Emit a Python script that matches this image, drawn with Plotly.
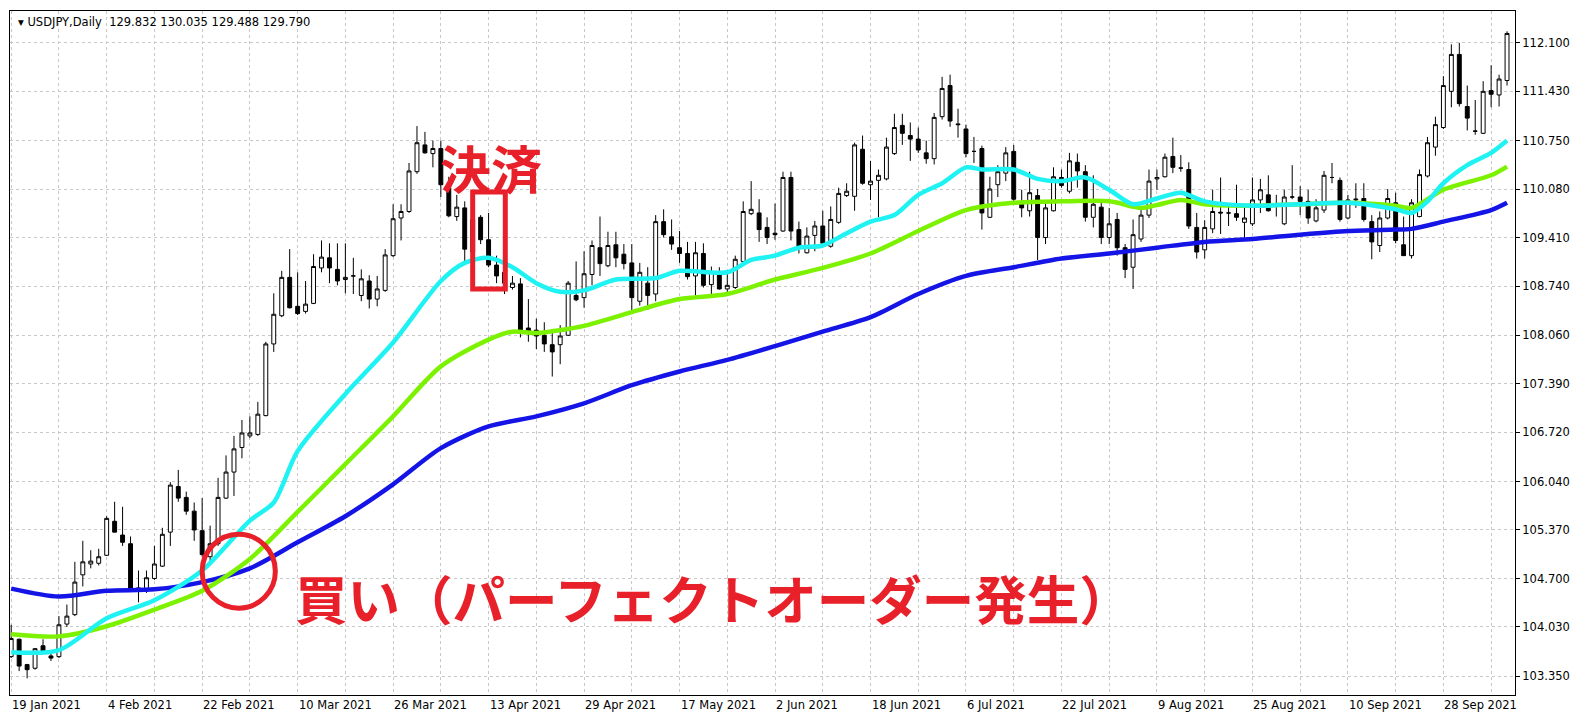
import plotly.graph_objects as go

# daily bars, index 0 = 19 Jan 2021
opens = [103.62, 103.86, 103.51, 103.46, 103.77, 103.63, 103.62, 104.07, 104.20, 104.75,
         104.90, 104.91, 105.02, 105.49, 105.30, 105.18, 104.57, 104.53, 104.70, 104.87,
         105.34, 105.97, 105.82, 105.63, 105.36, 105.00, 105.18, 105.81, 106.17, 106.51,
         106.67, 106.69, 106.95, 107.94, 108.33, 108.86, 108.46, 108.39, 108.50, 108.99,
         109.13, 108.97, 108.83, 108.88, 108.61, 108.81, 108.56, 108.68, 109.16, 109.68,
         109.77, 110.32, 110.69, 110.57, 110.64, 110.10, 109.70, 109.82, 109.21, 109.69,
         109.38, 109.03, 108.93, 108.72, 108.77, 108.16, 108.13, 108.06, 107.93, 107.93,
         108.06, 108.61, 108.58, 108.90, 109.27, 109.02, 109.31, 109.18, 109.06, 108.53,
         108.78, 108.63, 109.63, 109.42, 109.27, 109.19, 108.88, 109.19, 108.76, 108.91,
         108.70, 108.72, 109.08, 109.74, 109.75, 109.55, 109.47, 109.50, 110.24, 109.52,
         109.20, 109.44, 109.57, 109.29, 109.62, 109.99, 109.98, 110.63, 110.14, 110.20,
         110.22, 110.57, 110.96, 110.82, 110.77, 110.58, 110.50, 111.08, 111.51, 110.98,
         110.91, 110.60, 110.64, 109.69, 110.14, 110.30, 110.60, 109.88, 109.78, 109.99,
         109.41, 109.78, 110.24, 110.05, 110.45, 110.32, 109.69, 109.83, 109.41, 109.66,
         109.27, 109.00, 109.39, 109.72, 110.22, 110.25, 110.53, 110.37, 110.35, 109.55,
         109.24, 109.53, 109.76, 109.75, 109.74, 109.62, 109.60, 109.93, 110.00, 109.88,
         109.60, 109.97, 109.97, 109.91, 109.64, 109.79, 110.24, 110.20, 109.68, 109.93,
         109.95, 109.63, 109.30, 109.68, 109.89, 109.31, 109.16, 109.70, 110.26, 110.66,
         110.93, 111.43, 111.94, 111.22, 110.88, 110.85, 111.44, 111.38, 111.58]
highs = [104.06, 103.87, 103.52, 103.74, 103.86, 103.69, 104.18, 104.34, 104.93, 105.22,
         105.09, 105.11, 105.56, 105.76, 105.69, 105.28, 104.81, 104.81, 105.15, 105.40,
         106.03, 106.20, 105.90, 105.75, 105.81, 105.43, 106.09, 106.40, 106.67, 106.89,
         106.94, 107.14, 107.97, 108.64, 108.95, 109.25, 108.93, 108.81, 109.18, 109.37,
         109.33, 109.33, 109.33, 109.13, 108.97, 108.89, 108.88, 109.25, 109.87, 109.87,
         110.44, 110.95, 110.87, 110.75, 110.75, 110.25, 110.00, 109.91, 109.97, 109.72,
         109.75, 109.16, 108.97, 108.88, 108.85, 108.56, 108.29, 108.24, 108.09, 108.20,
         108.81, 109.08, 109.22, 109.37, 109.70, 109.49, 109.49, 109.32, 109.32, 109.06,
         109.00, 109.72, 109.80, 109.66, 109.50, 109.35, 109.35, 109.33, 109.01, 109.00,
         108.94, 109.16, 109.91, 110.19, 109.94, 109.69, 109.88, 110.32, 110.32, 109.63,
         109.55, 109.64, 109.78, 109.84, 110.10, 110.16, 110.72, 110.82, 110.47, 110.35,
         110.79, 111.12, 111.12, 111.00, 110.93, 110.75, 111.13, 111.63, 111.66, 111.19,
         110.97, 110.80, 110.68, 110.25, 110.41, 110.66, 110.69, 110.07, 110.32, 110.08,
         109.88, 110.38, 110.35, 110.58, 110.57, 110.41, 110.27, 109.94, 109.82, 109.75,
         109.32, 109.66, 109.82, 110.35, 110.35, 110.57, 110.79, 110.55, 110.45, 109.75,
         109.65, 110.07, 110.24, 109.85, 110.14, 109.85, 110.24, 110.22, 110.27, 110.00,
         110.07, 110.41, 110.12, 110.07, 109.94, 110.33, 110.44, 110.24, 110.00, 110.16,
         110.16, 109.72, 109.77, 110.08, 110.03, 109.70, 109.94, 110.35, 110.80, 111.08,
         111.64, 112.08, 112.10, 111.51, 111.31, 111.57, 111.79, 111.66, 112.26]
lows = [103.60, 103.42, 103.32, 103.44, 103.68, 103.56, 103.60, 104.03, 104.18, 104.59,
        104.84, 104.88, 105.01, 105.34, 105.15, 104.55, 104.37, 104.50, 104.68, 104.86,
        105.15, 105.76, 105.58, 105.22, 105.00, 104.90, 105.15, 105.80, 105.84, 106.36,
        106.64, 106.67, 106.94, 107.83, 108.31, 108.43, 108.34, 108.36, 108.49, 108.93,
        108.78, 108.75, 108.64, 108.63, 108.53, 108.43, 108.46, 108.66, 109.14, 109.37,
        109.75, 110.29, 110.57, 110.38, 109.97, 109.69, 109.64, 109.06, 109.19, 109.32,
        109.00, 108.78, 108.63, 108.69, 108.03, 107.97, 107.87, 107.83, 107.49, 107.66,
        108.05, 108.53, 108.44, 108.75, 108.88, 109.00, 109.00, 108.97, 108.38, 108.47,
        108.41, 108.53, 109.41, 109.24, 109.06, 108.83, 108.61, 108.72, 108.61, 108.69,
        108.63, 108.70, 109.05, 109.72, 109.35, 109.32, 109.38, 109.49, 109.37, 109.19,
        109.19, 109.22, 109.32, 109.27, 109.60, 109.97, 109.78, 110.14, 109.93, 109.69,
        110.20, 110.55, 110.69, 110.47, 110.58, 110.43, 110.42, 111.04, 110.94, 110.79,
        110.52, 110.44, 109.52, 109.68, 109.97, 110.19, 109.91, 109.69, 109.70, 109.10,
        109.32, 109.77, 110.10, 110.02, 110.10, 109.63, 109.55, 109.32, 109.32, 109.16,
        108.85, 108.70, 109.35, 109.68, 110.07, 110.24, 110.30, 110.32, 109.53, 109.12,
        109.12, 109.47, 109.46, 109.57, 109.64, 109.39, 109.57, 109.75, 109.77, 109.70,
        109.58, 109.94, 109.72, 109.60, 109.62, 109.75, 110.16, 109.63, 109.66, 109.82,
        109.63, 109.11, 109.21, 109.66, 109.33, 109.16, 109.12, 109.69, 110.24, 110.54,
        110.91, 111.21, 111.22, 110.89, 110.83, 110.84, 111.21, 111.22, 111.51]
closes = [103.87, 103.49, 103.44, 103.73, 103.69, 103.60, 104.06, 104.18, 104.65, 104.93,
          104.94, 105.00, 105.53, 105.34, 105.20, 104.56, 104.56, 104.71, 104.90, 105.31,
          105.99, 105.81, 105.63, 105.37, 105.03, 105.18, 105.82, 106.17, 106.49, 106.71,
          106.71, 106.97, 107.94, 108.35, 108.86, 108.44, 108.36, 108.49, 109.01, 109.14,
          108.99, 108.81, 108.86, 108.88, 108.84, 108.56, 108.70, 109.17, 109.67, 109.77,
          110.33, 110.72, 110.58, 110.64, 110.14, 109.71, 109.83, 109.25, 109.66, 109.38,
          109.03, 108.88, 108.78, 108.78, 108.13, 108.11, 108.05, 107.94, 107.83, 108.05,
          108.78, 108.55, 108.91, 109.30, 109.05, 109.30, 109.13, 109.05, 108.58, 108.93,
          108.61, 109.63, 109.45, 109.32, 109.19, 108.87, 109.20, 108.75, 108.94, 108.70,
          108.75, 109.11, 109.77, 109.80, 109.52, 109.41, 109.45, 110.24, 109.50, 109.28,
          109.43, 109.57, 109.33, 109.66, 110.02, 110.05, 110.69, 110.16, 110.19, 110.27,
          110.66, 110.93, 110.85, 110.77, 110.62, 110.50, 111.07, 111.47, 111.02, 110.97,
          110.57, 110.60, 109.75, 110.08, 110.32, 110.58, 109.94, 109.82, 110.03, 109.41,
          109.82, 110.25, 110.13, 110.47, 110.33, 109.69, 109.87, 109.41, 109.60, 109.27,
          108.97, 109.45, 109.72, 110.19, 110.24, 110.52, 110.38, 110.37, 109.57, 109.21,
          109.55, 109.77, 109.75, 109.75, 109.69, 109.68, 109.93, 110.07, 109.78, 109.88,
          109.97, 109.97, 109.91, 109.68, 109.82, 110.27, 110.24, 109.66, 109.93, 109.94,
          109.66, 109.35, 109.68, 109.95, 109.37, 109.16, 109.89, 110.28, 110.72, 110.97,
          111.51, 111.94, 111.26, 111.06, 110.88, 111.43, 111.39, 111.60, 112.23]

# moving averages at sample bars
blue_idx = [0, 6, 12, 18, 24, 30, 36, 42, 48, 54, 60, 66, 72, 78, 84, 90, 96, 102, 108,
            114, 120, 126, 132, 138, 144, 150, 156, 162, 168, 174, 176, 180, 186, 188]
blue_val = [104.56, 104.45, 104.53, 104.55, 104.65, 104.84, 105.20, 105.56, 106.00, 106.50,
            106.80, 106.94, 107.12, 107.37, 107.56, 107.72, 107.91, 108.11, 108.31, 108.63,
            108.88, 109.00, 109.12, 109.19, 109.27, 109.35, 109.39, 109.45, 109.50, 109.52,
            109.53, 109.63, 109.79, 109.89]
green_idx = [0, 6, 12, 18, 24, 30, 36, 42, 48, 54, 60, 63, 66, 72, 78, 84, 90, 96, 102,
             108, 114, 120, 126, 132, 138, 142, 144, 147, 150, 156, 162, 168, 174, 176,
             180, 186, 188]
green_val = [103.93, 103.90, 104.04, 104.27, 104.53, 104.97, 105.62, 106.28, 106.94, 107.63,
             108.00, 108.11, 108.09, 108.19, 108.38, 108.56, 108.63, 108.83, 108.99, 109.19,
             109.50, 109.79, 109.89, 109.91, 109.91, 109.82, 109.86, 109.93, 109.87, 109.85,
             109.87, 109.89, 109.85, 109.82, 110.07, 110.27, 110.39]
cyan_idx = [0, 6, 12, 18, 24, 30, 33, 36, 42, 48, 54, 57, 60, 63, 66, 69, 72, 76, 81, 84,
            90, 93, 96, 99, 102, 105, 108, 111, 114, 117, 120, 122, 126, 129, 132, 135,
            138, 141, 144, 147, 150, 156, 162, 168, 174, 176, 178, 180, 183, 186, 188]
cyan_val = [103.68, 103.71, 104.15, 104.40, 104.81, 105.50, 105.75, 106.46, 107.25, 107.96,
            108.81, 109.06, 109.13, 109.00, 108.78, 108.66, 108.68, 108.83, 108.85, 108.95,
            108.93, 109.10, 109.16, 109.27, 109.30, 109.47, 109.63, 109.72, 110.00, 110.16,
            110.38, 110.35, 110.35, 110.22, 110.19, 110.24, 110.07, 109.87, 109.95, 110.03,
            109.91, 109.85, 109.87, 109.89, 109.80, 109.75, 109.91, 110.16, 110.41, 110.58,
            110.75]

price_ticks = [112.100, 111.430, 110.750, 110.080, 109.410, 108.740, 108.060, 107.390,
               106.720, 106.040, 105.370, 104.700, 104.030, 103.350]
date_labels = ["19 Jan 2021", "4 Feb 2021", "22 Feb 2021", "10 Mar 2021", "26 Mar 2021",
               "13 Apr 2021", "29 Apr 2021", "17 May 2021", "2 Jun 2021", "18 Jun 2021",
               "6 Jul 2021", "22 Jul 2021", "9 Aug 2021", "25 Aug 2021", "10 Sep 2021",
               "28 Sep 2021"]

RED = "#e8202a"
FONT = "DejaVu Sans"
bars = list(range(len(closes)))

fig = go.Figure()
fig.add_trace(go.Candlestick(
    x=bars, open=opens, high=highs, low=lows, close=closes,
    increasing=dict(fillcolor="white", line=dict(color="black", width=1)),
    decreasing=dict(fillcolor="black", line=dict(color="black", width=1)),
    whiskerwidth=0, hoverinfo="skip", showlegend=False))
for idx, val, col in [(blue_idx, blue_val, "#1414e6"),
                      (green_idx, green_val, "#7cf200"),
                      (cyan_idx, cyan_val, "#1ef2f2")]:
    fig.add_trace(go.Scatter(x=idx, y=val, mode="lines", showlegend=False,
                             line=dict(color=col, width=4.5, shape="spline", smoothing=0.8),
                             hoverinfo="skip"))

# annotations
fig.add_shape(type="rect", x0=58.0, x1=62.1, y0=108.70, y1=110.04,
              line=dict(color=RED, width=5))
fig.add_shape(type="circle", x0=24.0, x1=33.2, y0=104.29, y1=105.31,
              line=dict(color=RED, width=5))
fig.add_annotation(x=53.6, y=110.39, text="<b>決済</b>", showarrow=False,
                   xanchor="left", font=dict(family="Noto Sans CJK JP", size=51, color=RED))
fig.add_annotation(x=35.4, y=104.44, text="<b>買い（パーフェクトオーダー発生）</b>",
                   showarrow=False, xanchor="left",
                   font=dict(family="Noto Sans CJK JP", size=52.5, color=RED))
fig.add_annotation(x=0.004, y=0.997, xref="paper", yref="paper", xanchor="left",
                   yanchor="top", showarrow=False,
                   text="▾ USDJPY,Daily  129.832 130.035 129.488 129.790",
                   font=dict(family=FONT, size=11.5, color="black"))
for k, lab in enumerate(date_labels):
    fig.add_annotation(x=k * 12, y=0, xref="x", yref="paper", yanchor="top",
                       xanchor="left", xshift=-1, yshift=-1, showarrow=False, text=lab,
                       font=dict(family=FONT, size=11.5, color="black"))

fig.update_layout(
    width=1579, height=714, paper_bgcolor="white", plot_bgcolor="white",
    margin=dict(l=2, r=72, t=3, b=27),
    xaxis=dict(range=[-0.15, 189], tickmode="linear", tick0=0, dtick=6,
               showticklabels=False, showgrid=True, gridcolor="#c8c8c8",
               griddash="3px,3px", gridwidth=1, zeroline=False,
               rangeslider=dict(visible=False),
               showline=True, linecolor="black", mirror=True),
    yaxis=dict(range=[103.09, 112.54], side="right", tickvals=price_ticks,
               ticktext=[f"{v:.3f}" for v in price_ticks], ticks="outside", ticklen=4,
               tickcolor="black", showgrid=True, gridcolor="#c8c8c8", griddash="3px,3px",
               zeroline=False, showline=True, linecolor="black", mirror=True,
               tickfont=dict(family=FONT, size=11.5, color="black")),
)
fig.write_html("out.html")
